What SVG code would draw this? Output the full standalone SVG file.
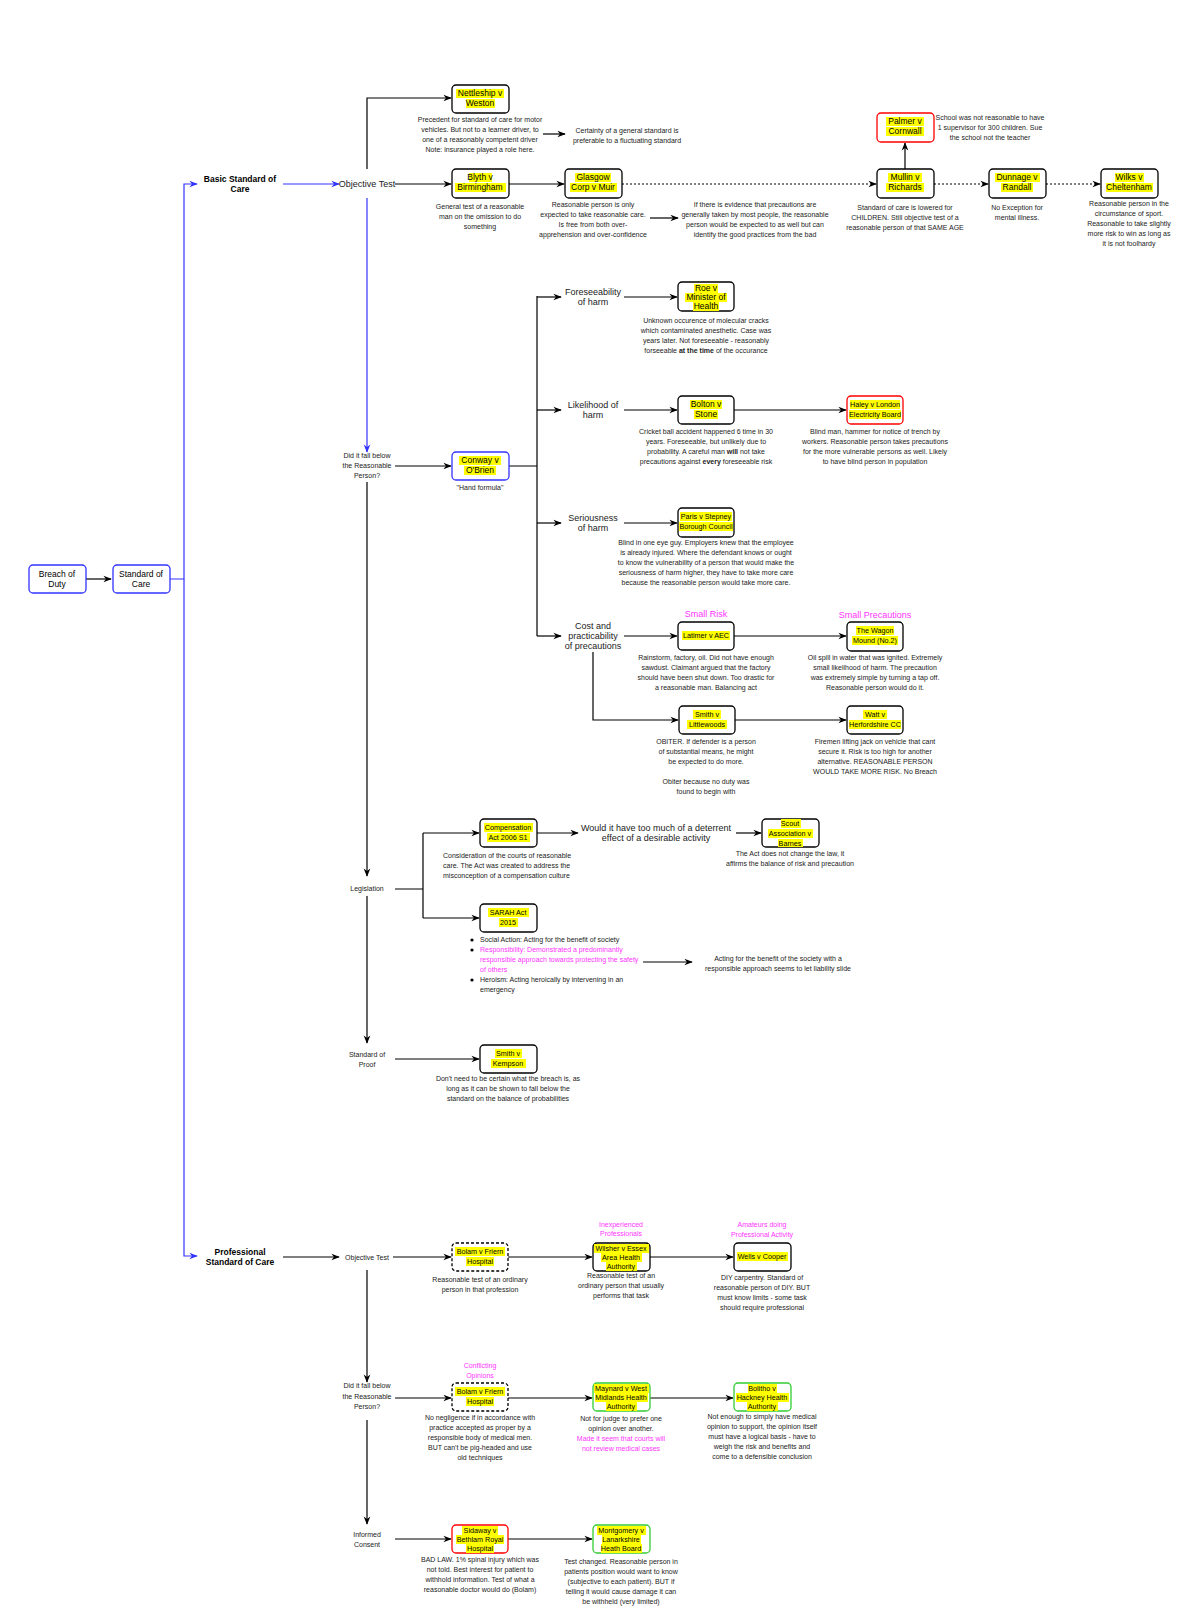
<svg xmlns="http://www.w3.org/2000/svg" width="1200" height="1624" viewBox="0 0 1200 1624">
<style>
text{font-family:"Liberation Sans",Arial,sans-serif;fill:#222}
.d{font-size:7px;text-anchor:middle}
.dl{font-size:7px}
.b{font-size:8.5px;text-anchor:middle;fill:#000}
.bs{font-size:7.2px;text-anchor:middle;fill:#000}
.l{font-size:9px;text-anchor:middle}
.m{fill:#ff33ff}
.hl{fill:#ffff00}
.box{fill:#fff;stroke:#000;stroke-width:1.3}
.red{stroke:#ff0000}
.grn{stroke:#33cc33}
.blu{stroke:#3333ff}
.dash{stroke-dasharray:3 2}
.c{fill:none;stroke:#000;stroke-width:1.2}
.cb{fill:none;stroke:#3333ff;stroke-width:1.2}
.dot{stroke-dasharray:2 2}
</style>
<defs>
<marker id="a" viewBox="0 0 10 10" refX="9" refY="5" markerWidth="7" markerHeight="7" orient="auto"><path d="M0,1 L10,5 L0,9 L3,5 z" fill="#000"/></marker>
<marker id="ab" viewBox="0 0 10 10" refX="9" refY="5" markerWidth="7" markerHeight="7" orient="auto"><path d="M0,1 L10,5 L0,9 L3,5 z" fill="#3333ff"/></marker>
</defs>
<rect width="1200" height="1624" fill="#fff"/>

<g id="connectors">
<path class="c" d="M86,579 H111" marker-end="url(#a)"/>
<path class="cb" d="M170,579 H184 V184 H197" marker-end="url(#ab)"/>
<path class="cb" d="M184,579 V1256 H197" marker-end="url(#ab)"/>
<path class="cb" d="M283,184 H339" marker-end="url(#ab)"/>
<path class="c" d="M367,169 V98 H451" marker-end="url(#a)"/>
<path class="c" d="M395,184 H451" marker-end="url(#a)"/>
<path class="c" d="M509,184 H564" marker-end="url(#a)"/>
<path class="c dot" d="M622,184 H876" marker-end="url(#a)"/>
<path class="c dot" d="M934,184 H988" marker-end="url(#a)"/>
<path class="c dot" d="M1046,184 H1100" marker-end="url(#a)"/>
<path class="c" d="M905,169 V143" marker-end="url(#a)"/>
<path class="c" d="M543,134 H565" marker-end="url(#a)"/>
<path class="c" d="M650,218 H678" marker-end="url(#a)"/>
<path class="cb" d="M367,198 V452" marker-end="url(#ab)"/>
<path class="c" d="M395,466 H451" marker-end="url(#a)"/>
<path class="c" d="M509,466 H537 M537,296 V636"/>
<path class="c" d="M537,297 H561" marker-end="url(#a)"/>
<path class="c" d="M537,410 H561" marker-end="url(#a)"/>
<path class="c" d="M537,523 H561" marker-end="url(#a)"/>
<path class="c" d="M537,636 H561" marker-end="url(#a)"/>
<path class="c" d="M624,297 H677" marker-end="url(#a)"/>
<path class="c" d="M624,410 H677" marker-end="url(#a)"/>
<path class="c" d="M624,523 H677" marker-end="url(#a)"/>
<path class="c" d="M624,636 H677" marker-end="url(#a)"/>
<path class="c" d="M734,410 H846" marker-end="url(#a)"/>
<path class="c" d="M734,636 H846" marker-end="url(#a)"/>
<path class="c" d="M593,652 V720 H678" marker-end="url(#a)"/>
<path class="c" d="M735,720 H846" marker-end="url(#a)"/>
<path class="c" d="M367,482 V876" marker-end="url(#a)"/>
<path class="c" d="M367,896 V1043" marker-end="url(#a)"/>
<path class="c" d="M395,889 H423 M423,833 V918"/>
<path class="c" d="M423,833 H479" marker-end="url(#a)"/>
<path class="c" d="M423,918 H479" marker-end="url(#a)"/>
<path class="c" d="M537,833 H578" marker-end="url(#a)"/>
<path class="c" d="M736,833 H761" marker-end="url(#a)"/>
<path class="c" d="M643,962 H692" marker-end="url(#a)"/>
<path class="c" d="M395,1059 H479" marker-end="url(#a)"/>
<path class="c" d="M283,1257 H339" marker-end="url(#a)"/>
<path class="c" d="M393,1257 H451" marker-end="url(#a)"/>
<path class="c" d="M508,1257 H592" marker-end="url(#a)"/>
<path class="c" d="M650,1257 H733" marker-end="url(#a)"/>
<path class="c" d="M367,1270 V1382" marker-end="url(#a)"/>
<path class="c" d="M395,1398 H451" marker-end="url(#a)"/>
<path class="c" d="M508,1398 H592" marker-end="url(#a)"/>
<path class="c" d="M650,1398 H733" marker-end="url(#a)"/>
<path class="c" d="M367,1420 V1524" marker-end="url(#a)"/>
<path class="c" d="M395,1539 H451" marker-end="url(#a)"/>
<path class="c" d="M508,1539 H592" marker-end="url(#a)"/>
</g>

<g id="breach"><rect class="box blu" x="29" y="565" width="57" height="28" rx="4"/><text class="b" x="57" y="577">Breach of</text><text class="b" x="57" y="587">Duty</text></g>
<g id="standard"><rect class="box blu" x="113" y="565" width="57" height="28" rx="4"/><text class="b" x="141" y="577">Standard of</text><text class="b" x="141" y="587">Care</text></g>
<g id="basic"><text class="b" x="240" y="182" font-weight="bold">Basic Standard of</text><text class="b" x="240" y="192" font-weight="bold">Care</text></g>
<g id="prof"><text class="b" x="240" y="1255" font-weight="bold">Professional</text><text class="b" x="240" y="1265" font-weight="bold">Standard of Care</text></g>
<g id="objtest"><text class="l" x="367" y="187">Objective Test</text></g>

<g id="nettleship"><rect class="box" x="452" y="85" width="57" height="28" rx="4"/>
<rect class="hl" x="456" y="89" width="48" height="9"/><rect class="hl" x="466" y="99" width="29" height="9"/>
<text class="b" x="480" y="96">Nettleship v</text><text class="b" x="480" y="106">Weston</text>
<text class="d" x="480" y="122">Precedent for standard of care for motor</text><text class="d" x="480" y="132">vehicles. But not to a learner driver, to</text><text class="d" x="480" y="142">one of a reasonably competent driver</text><text class="d" x="480" y="152">Note: insurance played a role here.</text>
<text class="d" x="627" y="133">Certainty of a general standard is</text><text class="d" x="627" y="143">preferable to a fluctuating standard</text></g>

<g id="blyth"><rect class="box" x="452" y="169" width="57" height="29" rx="4"/>
<rect class="hl" x="469" y="173" width="23" height="9"/><rect class="hl" x="455" y="183" width="51" height="9"/>
<text class="b" x="480" y="180">Blyth v</text><text class="b" x="480" y="190">Birmingham</text>
<text class="d" x="480" y="209">General test of a reasonable</text><text class="d" x="480" y="219">man on the omission to do</text><text class="d" x="480" y="229">something</text></g>

<g id="glasgow"><rect class="box" x="565" y="169" width="57" height="29" rx="4"/>
<rect class="hl" x="575" y="173" width="36" height="9"/><rect class="hl" x="570" y="183" width="47" height="9"/>
<text class="b" x="593" y="180">Glasgow</text><text class="b" x="593" y="190">Corp v Muir</text>
<text class="d" x="593" y="207">Reasonable person is only</text><text class="d" x="593" y="217">expected to take reasonable care.</text><text class="d" x="593" y="227">Is free from both over-</text><text class="d" x="593" y="237">apprehension and over-confidence</text>
<text class="d" x="755" y="207">If there is evidence that precautions are</text><text class="d" x="755" y="217">generally taken by most people, the reasonable</text><text class="d" x="755" y="227">person would be expected to as well but can</text><text class="d" x="755" y="237">identify the good practices from the bad</text></g>

<g id="mullin"><rect class="box" x="877" y="169" width="57" height="29" rx="4"/>
<rect class="hl" x="888" y="173" width="34" height="9"/><rect class="hl" x="886" y="183" width="38" height="9"/>
<text class="b" x="905" y="180">Mullin v</text><text class="b" x="905" y="190">Richards</text>
<text class="d" x="905" y="210">Standard of care is lowered for</text><text class="d" x="905" y="220">CHILDREN. Still objective test of a</text><text class="d" x="905" y="230">reasonable person of that SAME AGE</text></g>

<g id="palmer"><rect class="box red" x="877" y="113" width="57" height="29" rx="4"/>
<rect class="hl" x="886" y="117" width="38" height="9"/><rect class="hl" x="886" y="127" width="38" height="9"/>
<text class="b" x="905" y="124">Palmer v</text><text class="b" x="905" y="134">Cornwall</text>
<text class="d" x="990" y="120">School was not reasonable to have</text><text class="d" x="990" y="130">1 supervisor for 300 children. Sue</text><text class="d" x="990" y="140">the school not the teacher</text></g>

<g id="dunnage"><rect class="box" x="989" y="169" width="57" height="29" rx="4"/>
<rect class="hl" x="995" y="173" width="45" height="9"/><rect class="hl" x="1001" y="183" width="32" height="9"/>
<text class="b" x="1017" y="180">Dunnage v</text><text class="b" x="1017" y="190">Randall</text>
<text class="d" x="1017" y="210">No Exception for</text><text class="d" x="1017" y="220">mental illness.</text></g>

<g id="wilks"><rect class="box" x="1101" y="169" width="57" height="29" rx="4"/>
<rect class="hl" x="1115" y="173" width="29" height="9"/><rect class="hl" x="1106" y="183" width="47" height="9"/>
<text class="b" x="1129" y="180">Wilks v</text><text class="b" x="1129" y="190">Cheltenham</text>
<text class="d" x="1129" y="206">Reasonable person in the</text><text class="d" x="1129" y="216">circumstance of sport.</text><text class="d" x="1129" y="226">Reasonable to take slightly</text><text class="d" x="1129" y="236">more risk to win as long as</text><text class="d" x="1129" y="246">it is not foolhardy</text></g>

<g id="didfall1"><text class="d" x="367" y="458">Did it fall below</text><text class="d" x="367" y="468">the Reasonable</text><text class="d" x="367" y="478">Person?</text></g>
<g id="conway"><rect class="box blu" x="452" y="452" width="57" height="28" rx="4"/>
<rect class="hl" x="459" y="456" width="42" height="9"/><rect class="hl" x="464" y="466" width="32" height="9"/>
<text class="b" x="480" y="463">Conway v</text><text class="b" x="480" y="473">O'Brien</text>
<text class="d" x="480" y="490">"Hand formula"</text></g>

<g id="fore"><text class="l" x="593" y="295">Foreseeability</text><text class="l" x="593" y="305">of harm</text></g>
<g id="roe"><rect class="box" x="678" y="282" width="56" height="29" rx="4"/>
<rect class="hl" x="694" y="284" width="24" height="9"/><rect class="hl" x="685" y="293" width="42" height="9"/><rect class="hl" x="693" y="302" width="26" height="9"/>
<text class="b" x="706" y="291">Roe v</text><text class="b" x="706" y="300">Minister of</text><text class="b" x="706" y="309">Health</text>
<text class="d" x="706" y="323">Unknown occurence of molecular cracks</text><text class="d" x="706" y="333">which contaminated anesthetic. Case was</text><text class="d" x="706" y="343">years later. Not foreseeable - reasonably</text><text class="d" x="706" y="353">forseeable <tspan font-weight="bold">at the time</tspan> of the occurance</text></g>

<g id="likely"><text class="l" x="593" y="408">Likelihood of</text><text class="l" x="593" y="418">harm</text></g>
<g id="bolton"><rect class="box" x="678" y="396" width="56" height="28" rx="4"/>
<rect class="hl" x="690" y="400" width="32" height="9"/><rect class="hl" x="694" y="410" width="24" height="9"/>
<text class="b" x="706" y="407">Bolton v</text><text class="b" x="706" y="417">Stone</text>
<text class="d" x="706" y="434">Cricket ball accident happened 6 time in 30</text><text class="d" x="706" y="444">years. Foreseeable, but unlikely due to</text><text class="d" x="706" y="454">probability. A careful man <tspan font-weight="bold">will</tspan> not take</text><text class="d" x="706" y="464">precautions against <tspan font-weight="bold">every</tspan> foreseeable risk</text></g>
<g id="haley"><rect class="box red" x="847" y="396" width="56" height="28" rx="4"/>
<rect class="hl" x="850" y="400" width="50" height="9"/><rect class="hl" x="849" y="410" width="52" height="9"/>
<text class="bs" x="875" y="407">Haley v London</text><text class="bs" x="875" y="417">Electricity Board</text>
<text class="d" x="875" y="434">Blind man, hammer for notice of trench by</text><text class="d" x="875" y="444">workers. Reasonable person takes precautions</text><text class="d" x="875" y="454">for the more vulnerable persons as well. Likely</text><text class="d" x="875" y="464">to have blind person in population</text></g>

<g id="serious"><text class="l" x="593" y="521">Seriousness</text><text class="l" x="593" y="531">of harm</text></g>
<g id="paris"><rect class="box" x="678" y="508" width="56" height="29" rx="4"/>
<rect class="hl" x="680" y="512" width="52" height="9"/><rect class="hl" x="679" y="522" width="54" height="9"/>
<text class="bs" x="706" y="519">Paris v Stepney</text><text class="bs" x="706" y="529">Borough Council</text>
<text class="d" x="706" y="545">Blind in one eye guy. Employers knew that the employee</text><text class="d" x="706" y="555">is already injured. Where the defendant knows or ought</text><text class="d" x="706" y="565">to know the vulnerability of a person that would make the</text><text class="d" x="706" y="575">seriousness of harm higher, they have to take more care</text><text class="d" x="706" y="585">because the reasonable person would take more care.</text></g>

<g id="cost"><text class="l" x="593" y="629">Cost and</text><text class="l" x="593" y="639">practicability</text><text class="l" x="593" y="649">of precautions</text></g>
<g id="latimer"><text class="l m" x="706" y="617">Small Risk</text><rect class="box" x="678" y="622" width="56" height="28" rx="4"/>
<rect class="hl" x="682" y="631" width="48" height="9"/>
<text class="bs" x="706" y="638">Latimer v AEC</text>
<text class="d" x="706" y="660">Rainstorm, factory, oil. Did not have enough</text><text class="d" x="706" y="670">sawdust. Claimant argued that the factory</text><text class="d" x="706" y="680">should have been shut down. Too drastic for</text><text class="d" x="706" y="690">a reasonable man. Balancing act</text></g>
<g id="wagon"><text class="l m" x="875" y="618">Small Precautions</text><rect class="box" x="847" y="622" width="56" height="29" rx="4"/>
<rect class="hl" x="856" y="626" width="38" height="9"/><rect class="hl" x="852" y="636" width="46" height="9"/>
<text class="bs" x="875" y="633">The Wagon</text><text class="bs" x="875" y="643">Mound (No.2)</text>
<text class="d" x="875" y="660">Oil spill in water that was ignited. Extremely</text><text class="d" x="875" y="670">small likelihood of harm. The precaution</text><text class="d" x="875" y="680">was extremely simple by turning a tap off.</text><text class="d" x="875" y="690">Reasonable person would do it.</text></g>
<g id="smithl"><rect class="box" x="679" y="706" width="56" height="28" rx="4"/>
<rect class="hl" x="693" y="710" width="28" height="9"/><rect class="hl" x="687" y="720" width="40" height="9"/>
<text class="bs" x="707" y="717">Smith v</text><text class="bs" x="707" y="727">Littlewoods</text>
<text class="d" x="706" y="744">OBITER. If defender is a person</text><text class="d" x="706" y="754">of substantial means, he might</text><text class="d" x="706" y="764">be expected to do more.</text><text class="d" x="706" y="784">Obiter because no duty was</text><text class="d" x="706" y="794">found to begin with</text></g>
<g id="watt"><rect class="box" x="847" y="706" width="56" height="28" rx="4"/>
<rect class="hl" x="863" y="710" width="24" height="9"/><rect class="hl" x="849" y="720" width="52" height="9"/>
<text class="bs" x="875" y="717">Watt v</text><text class="bs" x="875" y="727">Herfordshire CC</text>
<text class="d" x="875" y="744">Firemen lifting jack on vehicle that cant</text><text class="d" x="875" y="754">secure it. Risk is too high for another</text><text class="d" x="875" y="764">alternative. REASONABLE PERSON</text><text class="d" x="875" y="774">WOULD TAKE MORE RISK. No Breach</text></g>

<g id="legis"><text class="d" x="367" y="891">Legislation</text></g>
<g id="comp"><rect class="box" x="480" y="819" width="57" height="28" rx="4"/>
<rect class="hl" x="484" y="823" width="49" height="9"/><rect class="hl" x="487" y="833" width="43" height="9"/>
<text class="bs" x="508" y="830">Compensation</text><text class="bs" x="508" y="840">Act 2006 S1</text>
<text class="dl" x="443" y="858">Consideration of the courts of reasonable</text><text class="dl" x="443" y="868">care. The Act was created to address the</text><text class="dl" x="443" y="878">misconception of a compensation culture</text>
<text class="l" x="656" y="831">Would it have too much of a deterrent</text><text class="l" x="656" y="841">effect of a desirable activity</text></g>
<g id="scout"><rect class="box" x="762" y="819" width="57" height="28" rx="4"/>
<rect class="hl" x="781" y="819" width="20" height="9"/><rect class="hl" x="768" y="829" width="45" height="9"/><rect class="hl" x="778" y="839" width="25" height="8"/>
<text class="bs" x="790" y="826">Scout</text><text class="bs" x="790" y="836">Association v</text><text class="bs" x="790" y="846">Barnes</text>
<text class="d" x="790" y="856">The Act does not change the law, it</text><text class="d" x="790" y="866">affirms the balance of risk and precaution</text></g>
<g id="sarah"><rect class="box" x="480" y="904" width="57" height="28" rx="4"/>
<rect class="hl" x="488" y="908" width="41" height="9"/><rect class="hl" x="499" y="918" width="19" height="9"/>
<text class="bs" x="508" y="915">SARAH Act</text><text class="bs" x="508" y="925">2015</text>
<circle cx="472" cy="940" r="1.6" fill="#000"/><circle cx="472" cy="950" r="1.6" fill="#000"/><circle cx="472" cy="980" r="1.6" fill="#000"/>
<text class="dl" x="480" y="942">Social Action: Acting for the benefit of society</text>
<text class="dl m" x="480" y="952">Responsibility: Demonstrated a predominantly</text><text class="dl m" x="480" y="962">responsible approach towards protecting the safety</text><text class="dl m" x="480" y="972">of others</text>
<text class="dl" x="480" y="982">Heroism: Acting heroically by intervening in an</text><text class="dl" x="480" y="992">emergency</text>
<text class="d" x="778" y="961">Acting for the benefit of the society with a</text><text class="d" x="778" y="971">responsible approach seems to let liability slide</text></g>

<g id="proof"><text class="d" x="367" y="1057">Standard of</text><text class="d" x="367" y="1067">Proof</text></g>
<g id="kempson"><rect class="box" x="480" y="1045" width="57" height="28" rx="4"/>
<rect class="hl" x="495" y="1049" width="27" height="9"/><rect class="hl" x="491" y="1059" width="35" height="9"/>
<text class="bs" x="508" y="1056">Smith v</text><text class="bs" x="508" y="1066">Kempson</text>
<text class="d" x="508" y="1081">Don't need to be certain what the breach is, as</text><text class="d" x="508" y="1091">long as it can be shown to fall below the</text><text class="d" x="508" y="1101">standard on the balance of probabilities</text></g>

<g id="objtest2"><text class="d" x="367" y="1260">Objective Test</text></g>
<g id="bolam1"><rect class="box dash" x="452" y="1243" width="56" height="28" rx="4"/>
<rect class="hl" x="455" y="1247" width="50" height="9"/><rect class="hl" x="466" y="1257" width="28" height="9"/>
<text class="bs" x="480" y="1254">Bolam v Friern</text><text class="bs" x="480" y="1264">Hospital</text>
<text class="d" x="480" y="1282">Reasonable test of an ordinary</text><text class="d" x="480" y="1292">person in that profession</text></g>
<g id="wilsher"><text class="d m" x="621" y="1227">Inexperienced</text><text class="d m" x="621" y="1236">Professionals</text>
<rect class="box" x="593" y="1243" width="57" height="28" rx="4"/>
<rect class="hl" x="594" y="1244" width="55" height="9"/><rect class="hl" x="601" y="1253" width="41" height="9"/><rect class="hl" x="606" y="1262" width="31" height="9"/>
<text class="bs" x="621" y="1251">Wilsher v Essex</text><text class="bs" x="621" y="1260">Area Health</text><text class="bs" x="621" y="1269">Authority</text>
<text class="d" x="621" y="1278">Reasonable test of an</text><text class="d" x="621" y="1288">ordinary person that usually</text><text class="d" x="621" y="1298">performs that task</text></g>
<g id="wells"><text class="d m" x="762" y="1227">Amateurs doing</text><text class="d m" x="762" y="1237">Professional Activity</text>
<rect class="box" x="734" y="1243" width="57" height="28" rx="4"/>
<rect class="hl" x="737" y="1252" width="51" height="9"/>
<text class="bs" x="762" y="1259">Wells v Cooper</text>
<text class="d" x="762" y="1280">DIY carpentry. Standard of</text><text class="d" x="762" y="1290">reasonable person of DIY. BUT</text><text class="d" x="762" y="1300">must know limits - some task</text><text class="d" x="762" y="1310">should require professional</text></g>

<g id="didfall2"><text class="d" x="367" y="1388">Did it fall below</text><text class="d" x="367" y="1399">the Reasonable</text><text class="d" x="367" y="1409">Person?</text></g>
<g id="bolam2"><text class="d m" x="480" y="1368">Conflicting</text><text class="d m" x="480" y="1378">Opinions</text>
<rect class="box dash" x="452" y="1383" width="56" height="28" rx="4"/>
<rect class="hl" x="455" y="1387" width="50" height="9"/><rect class="hl" x="466" y="1397" width="28" height="9"/>
<text class="bs" x="480" y="1394">Bolam v Friern</text><text class="bs" x="480" y="1404">Hospital</text>
<text class="d" x="480" y="1420">No negligence if in accordance with</text><text class="d" x="480" y="1430">practice accepted as proper by a</text><text class="d" x="480" y="1440">responsible body of medical men.</text><text class="d" x="480" y="1450">BUT can't be pig-headed and use</text><text class="d" x="480" y="1460">old techniques</text></g>
<g id="maynard"><rect class="box grn" x="593" y="1383" width="57" height="28" rx="4"/>
<rect class="hl" x="594" y="1384" width="55" height="9"/><rect class="hl" x="595" y="1393" width="53" height="9"/><rect class="hl" x="606" y="1402" width="31" height="9"/>
<text class="bs" x="621" y="1391">Maynard v West</text><text class="bs" x="621" y="1400">Midlands Health</text><text class="bs" x="621" y="1409">Authority</text>
<text class="d" x="621" y="1421">Not for judge to prefer one</text><text class="d" x="621" y="1431">opinion over another.</text><text class="d m" x="621" y="1441">Made it seem that courts will</text><text class="d m" x="621" y="1451">not review medical cases</text></g>
<g id="bolitho"><rect class="box grn" x="734" y="1383" width="57" height="28" rx="4"/>
<rect class="hl" x="748" y="1384" width="29" height="9"/><rect class="hl" x="736" y="1393" width="53" height="9"/><rect class="hl" x="747" y="1402" width="31" height="9"/>
<text class="bs" x="762" y="1391">Bolitho v</text><text class="bs" x="762" y="1400">Hackney Health</text><text class="bs" x="762" y="1409">Authority</text>
<text class="d" x="762" y="1419">Not enough to simply have medical</text><text class="d" x="762" y="1429">opinion to support, the opinion itself</text><text class="d" x="762" y="1439">must have a logical basis - have to</text><text class="d" x="762" y="1449">weigh the risk and benefits and</text><text class="d" x="762" y="1459">come to a defensible conclusion</text></g>

<g id="informed"><text class="d" x="367" y="1537">Informed</text><text class="d" x="367" y="1547">Consent</text></g>
<g id="sidaway"><rect class="box red" x="452" y="1525" width="56" height="28" rx="4"/>
<rect class="hl" x="462" y="1526" width="36" height="9"/><rect class="hl" x="456" y="1535" width="48" height="9"/><rect class="hl" x="466" y="1544" width="28" height="9"/>
<text class="bs" x="480" y="1533">Sidaway v</text><text class="bs" x="480" y="1542">Bethlam Royal</text><text class="bs" x="480" y="1551">Hospital</text>
<text class="d" x="480" y="1562">BAD LAW. 1% spinal injury which was</text><text class="d" x="480" y="1572">not told. Best interest for patient to</text><text class="d" x="480" y="1582">withhold information. Test of what a</text><text class="d" x="480" y="1592">reasonable doctor would do (Bolam)</text></g>
<g id="montgomery"><rect class="box grn" x="593" y="1525" width="57" height="28" rx="4"/>
<rect class="hl" x="597" y="1526" width="49" height="9"/><rect class="hl" x="602" y="1535" width="39" height="9"/><rect class="hl" x="601" y="1544" width="41" height="9"/>
<text class="bs" x="621" y="1533">Montgomery v</text><text class="bs" x="621" y="1542">Lanarkshire</text><text class="bs" x="621" y="1551">Heath Board</text>
<text class="d" x="621" y="1564">Test changed. Reasonable person in</text><text class="d" x="621" y="1574">patients position would want to know</text><text class="d" x="621" y="1584">(subjective to each patient). BUT if</text><text class="d" x="621" y="1594">telling it would cause damage it can</text><text class="d" x="621" y="1604">be withheld (very limited)</text></g>
</svg>
